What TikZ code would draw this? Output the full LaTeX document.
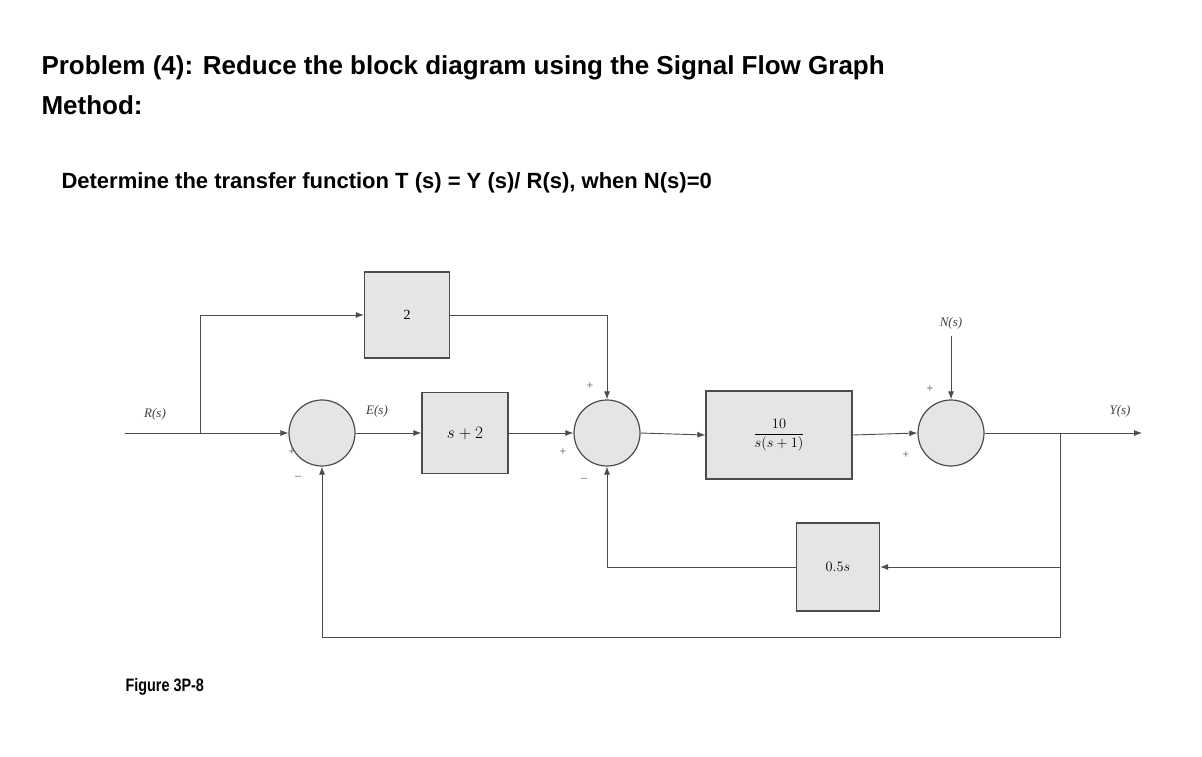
\documentclass[tikz,border=0pt]{standalone}
\usepackage{fontspec}
\setmainfont{Liberation Serif}
\newfontfamily\hd{Liberation Sans}
\newfontfamily\fg{Liberation Sans}[FakeStretch=0.8]
\usetikzlibrary{arrows.meta}
\begin{document}
\begin{tikzpicture}[x=1pt,y=-1pt,
  ln/.style={draw=black!70,line width=0.9pt},
  ar/.style={ln,-{Latex[length=8pt,width=6pt]}},
  blk/.style={draw=black!70,line width=1.2pt,fill=black!10,inner sep=0pt},
  sm/.style={circle,draw=black!70,line width=1.2pt,fill=black!10,minimum size=66pt,inner sep=0pt},
  lab/.style={font=\itshape\fontsize{13}{13}\selectfont,text=black!75},
  sg/.style={font=\fontsize{12}{12}\selectfont,text=black!70}]
\useasboundingbox (0,0) rectangle (1202,756);
\node[anchor=west,font=\hd\bfseries\fontsize{26}{30}\selectfont] (t1) at (38,68) {Problem (4): Reduce the block diagram using the Signal Flow Graph};
\node[anchor=west,font=\hd\bfseries\fontsize{26}{30}\selectfont] (t2) at (38,105) {Method:};
\node[anchor=west,font=\hd\bfseries\fontsize{22}{26}\selectfont] (t3) at (58,183) {Determine the transfer function T (s) = Y (s)/ R(s), when N(s)=0};

\node[sm] (s1) at (322,433) {};
\node[sm] (s2) at (607,433) {};
\node[sm] (s3) at (951,433) {};
\node[blk,minimum width=85pt,minimum height=86pt] (g2) at (407,315) {\fontsize{14}{14}\selectfont 2};
\node[blk,minimum width=86pt,minimum height=81pt] (g1) at (465,433) {\fontsize{16}{16}\selectfont $s+2$};
\node[blk,minimum width=146pt,minimum height=88pt] (g3) at (779,435) {\fontsize{15}{15}\selectfont $\displaystyle\frac{10}{s(s+1)}$};
\node[blk,minimum width=83pt,minimum height=88pt] (h) at (838,567) {\fontsize{15}{15}\selectfont $0.5s$};

\coordinate (rin) at (125,433);
\coordinate (bp1) at (200,433);
\coordinate (bp2) at (1060,433);
\coordinate (yout) at (1142,433);
\coordinate (nin) at (951,336);
\node[lab] (rl) at (155,414) {R(s)};
\node[lab] (el) at (377,411) {E(s)};
\node[lab] (nl) at (951,323) {N(s)};
\node[lab] (yl) at (1120,411) {Y(s)};

\draw[ar] (rin) -- (s1.west);
\draw[ar] (bp1) |- (g2.west);
\draw[ar] (g2.east) -| (s2.north);
\draw[ar] (s1.east) -- (g1.west);
\draw[ar] (g1.east) -- (s2.west);
\draw[ar] (s2.east) -- (g3.west);
\draw[ar] (g3.east) -- (s3.west);
\draw[ar] (nin) -- (s3.north);
\draw[ar] (s3.east) -- (yout);
\draw[ar] (bp2) |- (h.east);
\draw[ar] (h.west) -| (s2.south);
\draw[ar] (bp2) |- (322,637) -- (s1.south);

\node[sg] at (292,452) {+};
\node[sg] at (298,478) {--};
\node[sg] at (590,386) {+};
\node[sg] at (563,452) {+};
\node[sg] at (584,480) {--};
\node[sg] at (930,389) {+};
\node[sg] at (906,455) {+};

\node[anchor=west,font=\fg\bfseries\fontsize{18}{20}\selectfont] (fig) at (122,687) {Figure 3P-8};
\end{tikzpicture}
\end{document}
